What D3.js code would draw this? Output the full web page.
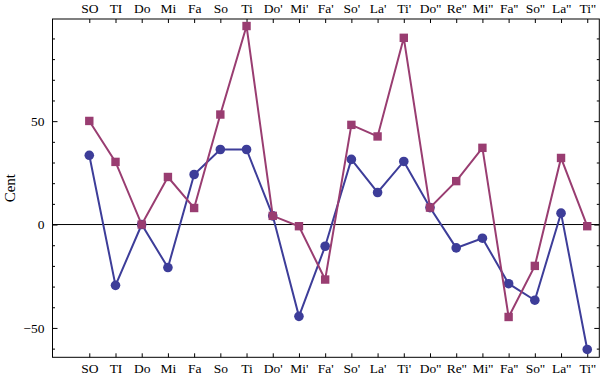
<!DOCTYPE html>
<html>
<head>
<meta charset="utf-8">
<script src="https://cdn.jsdelivr.net/npm/d3@7"></script>
<style>
  body { margin: 0; background: #fff; }
  svg text { font-family: "Liberation Serif", "DejaVu Serif", serif; }
</style>
</head>
<body>
<div id="chart"></div>
<script>
const notes = ["SO", "TI", "Do", "Mi", "Fa", "So", "Ti", "Do'", "Mi'", "Fa'",
  "So'", "La'", "Ti'", "Do''", "Re''", "Mi''", "Fa''", "So''", "La''", "Ti''"];

const blueCents = [33.5, -29.4, 0, -20.8, 24.2, 36.3, 36.3, 4.2, -44.4, -10.5,
  31.5, 15.5, 30.5, 8.2, -11.3, -6.6, -28.6, -36.6, 5.5, -60.4];

const purpleCents = [50.1, 30.3, 0, 23.0, 8.0, 53.2, 96.0, 4.2, -0.8, -26.6,
  48.2, 42.6, 90.3, 8.2, 21.0, 37.1, -44.7, -20.0, 32.2, -0.8];

const majorTicks = [-50, 0, 50];
const minorTicks = [-60, -40, -30, -20, -10, 10, 20, 30, 40, 60, 70, 80, 90];

const width = 600;
const height = 377;
const margin = { top: 19, right: 0.7, bottom: 19.7, left: 52.5 };

const blue = "#3d3d99";
const purple = "#993d71";

const svg = d3.select("#chart")
  .append("svg")
  .attr("width", width)
  .attr("height", height);

const x = d3.scaleLinear()
  .domain([-1.404, 19.46])
  .range([margin.left, width - margin.right]);

const y = d3.scaleLinear()
  .domain([-64.2, 99.4])
  .range([height - margin.bottom, margin.top]);

const idx = d3.range(notes.length);

// zero line
svg.append("line")
  .attr("x1", x.range()[0]).attr("x2", x.range()[1])
  .attr("y1", y(0)).attr("y2", y(0))
  .attr("stroke", "#000").attr("stroke-width", 1);

function styleAxis(g) {
  g.select(".domain").remove();
  g.selectAll(".tick line").attr("stroke", "#000").attr("stroke-width", 1);
  g.selectAll("text").attr("font-size", 13.5).attr("fill", "#000");
}

// bottom / top category axes
svg.append("g")
  .attr("transform", `translate(0,${height - margin.bottom})`)
  .call(d3.axisBottom(x).tickValues(idx).tickFormat(i => notes[i]).tickSize(-4).tickPadding(6.5))
  .call(styleAxis);

svg.append("g")
  .attr("transform", `translate(0,${margin.top})`)
  .call(d3.axisTop(x).tickValues(idx).tickFormat(i => notes[i]).tickSize(-4).tickPadding(6))
  .call(styleAxis);

// left axis
svg.append("g")
  .attr("transform", `translate(${margin.left},0)`)
  .call(d3.axisLeft(y).tickValues(majorTicks)
    .tickFormat(d => d < 0 ? "\u2212" + Math.abs(d) : d).tickSize(-5).tickPadding(8))
  .call(styleAxis);

svg.append("g")
  .attr("transform", `translate(${margin.left},0)`)
  .call(d3.axisLeft(y).tickValues(minorTicks).tickFormat("").tickSize(-2.5))
  .call(styleAxis);

// right axis (mirror, no labels)
svg.append("g")
  .attr("transform", `translate(${width - margin.right},0)`)
  .call(d3.axisRight(y).tickValues(majorTicks).tickFormat("").tickSize(-5))
  .call(styleAxis);

svg.append("g")
  .attr("transform", `translate(${width - margin.right},0)`)
  .call(d3.axisRight(y).tickValues(minorTicks).tickFormat("").tickSize(-2.5))
  .call(styleAxis);

// frame
svg.append("rect")
  .attr("x", margin.left).attr("y", margin.top)
  .attr("width", width - margin.right - margin.left)
  .attr("height", height - margin.bottom - margin.top)
  .attr("fill", "none").attr("stroke", "#000").attr("stroke-width", 1);

// y label
svg.append("text")
  .attr("transform", `translate(15,${(margin.top + height - margin.bottom) / 2}) rotate(-90)`)
  .attr("text-anchor", "middle")
  .attr("font-size", 15)
  .text("Cent");

const line = d3.line().x((d, i) => x(i)).y(d => y(d));

svg.append("path")
  .datum(blueCents)
  .attr("d", line)
  .attr("fill", "none").attr("stroke", blue).attr("stroke-width", 2);

svg.append("g").selectAll("circle")
  .data(blueCents)
  .join("circle")
    .attr("cx", (d, i) => x(i))
    .attr("cy", d => y(d))
    .attr("r", 4.8)
    .attr("fill", blue);

svg.append("path")
  .datum(purpleCents)
  .attr("d", line)
  .attr("fill", "none").attr("stroke", purple).attr("stroke-width", 2);

svg.append("g").selectAll("rect")
  .data(purpleCents)
  .join("rect")
    .attr("x", (d, i) => x(i) - 4.2)
    .attr("y", d => y(d) - 4.2)
    .attr("width", 8.4)
    .attr("height", 8.4)
    .attr("fill", purple);
</script>
</body>
</html>
